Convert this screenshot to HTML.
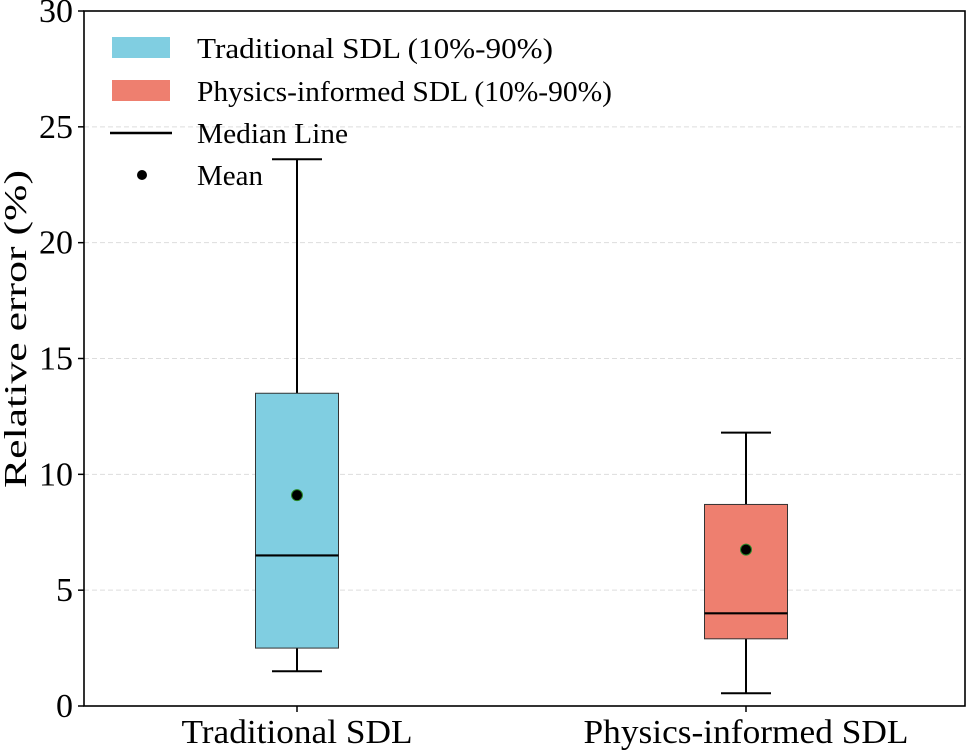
<!DOCTYPE html>
<html><head><meta charset="utf-8"><style>
body{margin:0;background:#fff;}
svg text{font-family:"Liberation Serif",serif;fill:#000;}
</style></head><body>
<svg id="chart" width="968" height="751" xmlns="http://www.w3.org/2000/svg">
<g id="grid"></g>
<g id="boxes"></g>
<rect x="84" y="11" width="881" height="695" fill="none" stroke="#000" stroke-width="1.6"/>
<g id="yticks"></g>
<g id="xticks"></g>
<text x="26" y="329" font-size="32" text-anchor="middle" textLength="318" lengthAdjust="spacingAndGlyphs" transform="rotate(-90 26 329)">Relative error (%)</text>
<g>
<rect x="112" y="37" width="58" height="21" fill="#80CEE1"/>
<text x="197" y="58" font-size="28" textLength="356" lengthAdjust="spacingAndGlyphs">Traditional SDL (10%-90%)</text>
<rect x="112" y="80" width="58" height="21" fill="#EE7F6F"/>
<text x="197" y="101" font-size="28" textLength="415" lengthAdjust="spacingAndGlyphs">Physics-informed SDL (10%-90%)</text>
<line x1="110" y1="133" x2="172" y2="133" stroke="#000" stroke-width="2.5"/>
<text x="197" y="143" font-size="28" textLength="151" lengthAdjust="spacingAndGlyphs">Median Line</text>
<circle cx="142" cy="175" r="5" fill="#000"/>
<text x="197" y="185" font-size="28" textLength="66" lengthAdjust="spacingAndGlyphs">Mean</text>
</g>
</svg>
<script>
const categories=["Traditional SDL","Physics-informed SDL"];
const whiskerLow=[1.5,0.55];
const q1=[2.5,2.9];
const median=[6.5,4.0];
const q3=[13.5,8.7];
const whiskerHigh=[23.6,11.8];
const means=[9.1,6.75];
const yTicks=[0,5,10,15,20,25,30];
const colors=["#80CEE1","#EE7F6F"];
const labelLens=[231,325];
const NS="http://www.w3.org/2000/svg";
const y=v=>706-(v/30)*695;
const x=i=>297+i*449;
function mk(tag,attrs,parent){const e=document.createElementNS(NS,tag);for(const k in attrs)e.setAttribute(k,attrs[k]);parent.appendChild(e);return e;}
const grid=document.getElementById('grid'),yt=document.getElementById('yticks'),xt=document.getElementById('xticks'),bx=document.getElementById('boxes');
yTicks.forEach(t=>{
  if(t>0&&t<30){const g=mk('line',{x1:84,x2:965,y1:y(t),y2:y(t),stroke:'#ddd','stroke-dasharray':'5,3','stroke-width':1},grid);
  
  }
  const l=mk('line',{x1:78,x2:84,y1:y(t),y2:y(t),stroke:'#000','stroke-width':1.5},yt);
  
  
  const tx=mk('text',{x:73,y:y(t)+11,'font-size':34,'text-anchor':'end'},yt);tx.textContent=t;
  
  
});
categories.forEach((c,i)=>{
  const cx=x(i),w=83;
  const l=mk('line',{x1:cx,x2:cx,y1:706,y2:712,stroke:'#000','stroke-width':1.5},xt);
  
  
  const tx=mk('text',{x:cx,y:743,'font-size':34,'text-anchor':'middle',textLength:labelLens[i],lengthAdjust:'spacingAndGlyphs'},xt);tx.textContent=c;
  
  
  const g=mk('g',{},bx);
  
  
  mk('line',{x1:cx,x2:cx,y1:y(whiskerLow[i]),y2:y(q1[i]),stroke:'#000','stroke-width':2},g);
  mk('line',{x1:cx,x2:cx,y1:y(q3[i]),y2:y(whiskerHigh[i]),stroke:'#000','stroke-width':2},g);
  mk('line',{x1:cx-25,x2:cx+25,y1:y(whiskerLow[i]),y2:y(whiskerLow[i]),stroke:'#000','stroke-width':2},g);
  mk('line',{x1:cx-25,x2:cx+25,y1:y(whiskerHigh[i]),y2:y(whiskerHigh[i]),stroke:'#000','stroke-width':2},g);
  mk('rect',{x:cx-w/2,y:y(q3[i]),width:w,height:y(q1[i])-y(q3[i]),fill:colors[i],stroke:'#333','stroke-width':1},g);
  mk('line',{x1:cx-w/2,x2:cx+w/2,y1:y(median[i]),y2:y(median[i]),stroke:'#000','stroke-width':2.2},g);
  mk('circle',{cx:cx,cy:y(means[i]),r:5.5,fill:'#000',stroke:'#2a8a2a','stroke-width':1},g);
});
</script>
</body></html>
